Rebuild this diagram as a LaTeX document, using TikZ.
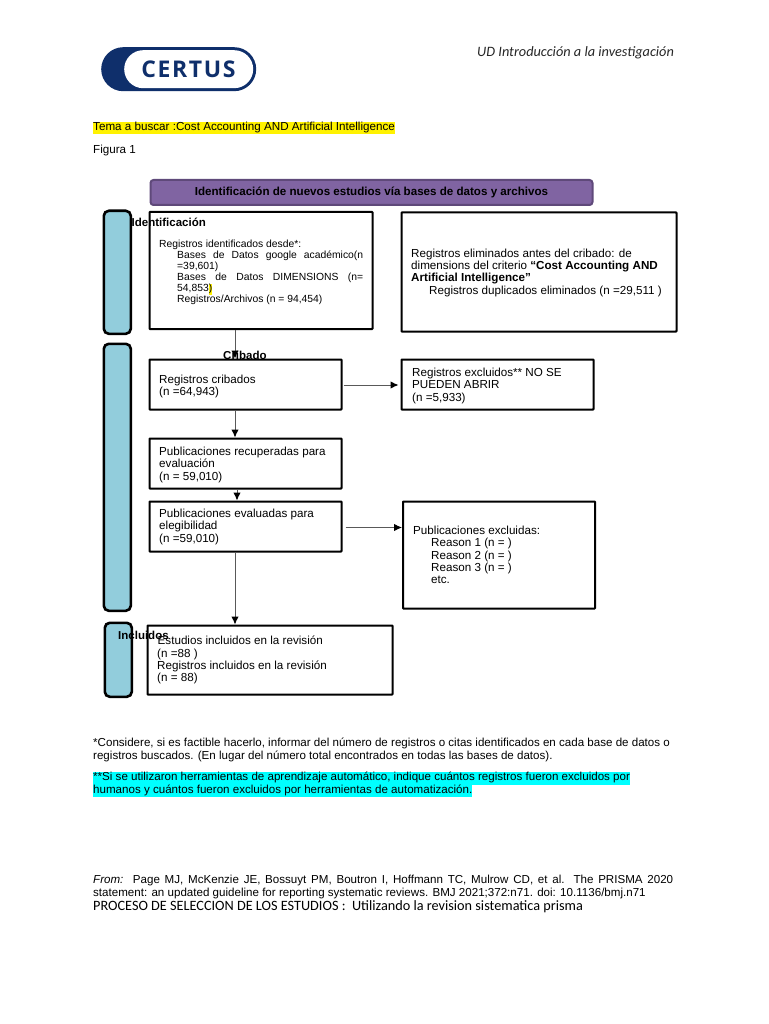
\documentclass[tikz,border=0pt]{standalone}
\usepackage{fontspec}
\setmainfont{Liberation Sans}
\newfontfamily\carl{Carlito}
\newfontfamily\logofont[LetterSpace=7]{Open Sans}
\usetikzlibrary{arrows.meta}
\definecolor{navy}{HTML}{0F2F6B}
\definecolor{bar}{HTML}{92CDDC}
\definecolor{head}{HTML}{8064A2}
\definecolor{headb}{HTML}{5F497A}
\definecolor{aqua}{HTML}{00FFFF}
\newcommand{\hl}[2]{{\setlength{\fboxsep}{0pt}\colorbox{#1}{\strut #2}}}
\newcommand{\just}[2]{\makebox[#1pt][s]{#2}}
\tikzset{
  x=1pt,y=-1pt,
  flowbox/.style={draw=black,line width=2pt,fill=white,rounded corners=0.6pt,inner sep=0pt,anchor=north west},
  sidebar/.style={draw=black,line width=2.6pt,fill=bar,rounded corners=5pt,inner sep=0pt,anchor=north west},
  body/.style={anchor=north west,inner sep=0pt,align=left,font=\fontsize{11.65}{12.3}\selectfont},
  note/.style={anchor=north west,inner sep=0pt,align=left,font=\fontsize{11.58}{12.5}\selectfont},
  small/.style={anchor=north west,inner sep=0pt,align=left,font=\fontsize{10.35}{11.1}\selectfont},
  tag/.style={anchor=west,inner sep=0pt,font=\fontsize{11.5}{12}\selectfont\bfseries},
  conn/.style={draw=black!65,line width=1pt,-{Latex[length=8pt,width=7.5pt,black]}},
}
\begin{document}
\begin{tikzpicture}
\useasboundingbox (0,0) rectangle (768,1024);
\fill[white] (0,0) rectangle (768,1024);
% logo
\node[fill=navy,rounded corners=22pt,minimum width=155pt,minimum height=44pt,inner sep=0pt,anchor=north west] (logo) at (101,47) {};
\node[fill=white,rounded corners=19pt,minimum width=129pt,minimum height=38pt,inner sep=0pt,anchor=north west] (logoin) at (124,50) {};
\node[anchor=center,inner sep=0pt,text=navy,font=\logofont\fontsize{23}{23}\selectfont\bfseries] (logotext) at (188.5,69.5) {CERTUS};
% top text
\node[anchor=west,inner sep=0pt,font=\carl\itshape\fontsize{14.3}{15}\selectfont,text=black!85] (ud) at (477,52.5) {UD Introducción a la investigación};
\node[body] (tema) at (93,122) {\hl{yellow}{Tema a buscar :Cost Accounting AND Artificial Intelligence}};
\node[body] (fig) at (93,145) {Figura 1};
% header
\node[draw=headb,line width=2pt,fill=head,rounded corners=3pt,minimum width=442pt,minimum height=25pt,inner sep=0pt,anchor=north west,font=\fontsize{11.6}{12}\selectfont\bfseries] (hdr) at (149.5,179) {Identificación de nuevos estudios vía bases de datos y archivos};
% side bars
\node[sidebar,minimum width=27pt,minimum height=123pt] (barA) at (102.5,209.5) {};
\node[sidebar,minimum width=27pt,minimum height=267pt] (barB) at (102.5,342.5) {};
\node[sidebar,minimum width=27pt,minimum height=74pt] (barC) at (103.5,621.5) {};
% boxes
\node[flowbox,minimum width=223pt,minimum height=117pt] (idb) at (148.5,211) {};
\node[flowbox,minimum width=275pt,minimum height=119pt] (elim) at (400.5,211.5) {};
\node[flowbox,minimum width=192pt,minimum height=50pt] (crib) at (148.5,358.5) {};
\node[flowbox,minimum width=192pt,minimum height=50pt] (excl) at (400.5,358.5) {};
\node[flowbox,minimum width=192pt,minimum height=50pt] (recu) at (148.5,437.5) {};
\node[flowbox,minimum width=192pt,minimum height=50pt] (eval) at (148.5,500.5) {};
\node[flowbox,minimum width=192pt,minimum height=107pt] (pubx) at (402,500.5) {};
\node[flowbox,minimum width=245pt,minimum height=69pt] (incl) at (146.5,624.5) {};
% connectors
\draw[conn] ([xshift=86.5pt]idb.south west) -- ([xshift=86.5pt]crib.north west);
\draw[conn] ([xshift=1pt,yshift=-0.5pt]crib.east) -- ([xshift=-2pt,yshift=-0.5pt]crib.east -| excl.west);
\draw[conn] ([xshift=86.5pt]crib.south west) -- ([xshift=86.5pt]recu.north west);
\draw[conn] ([xshift=88.5pt]recu.south west) -- ([xshift=88.5pt]eval.north west);
\draw[conn] ([xshift=86.5pt]eval.south west) -- ([xshift=88.5pt]incl.north west);
\draw[conn] ([xshift=3pt,yshift=-1pt]eval.east) -- ([yshift=-1pt]eval.east -| pubx.west);
% labels
\node[tag] (tagA) at (131.5,222) {Identificación};
\node[tag] (tagB) at (223,355) {Cribado};
\node[tag] (tagC) at (118,635) {Incluidos};
% box text
\node[small] (t1) at (159,239.5) {Registros identificados desde*:};
\node[small] (t2) at (177,250.5) {\just{186}{Bases de Datos google académico(n}\\=39,601)\\\just{186}{Bases de Datos DIMENSIONS (n=}\\54,853\hl{yellow}{)}\\Registros/Archivos (n = 94,454)};
\node[body] (t3) at (411,248.5) {Registros eliminados antes del cribado: de\\dimensions del criterio \textbf{“Cost Accounting AND}\\\textbf{Artificial Intelligence”}\\\hspace*{18pt}Registros duplicados eliminados (n =29,511 )};
\node[body] (t4) at (159,375) {Registros cribados\\(n =64,943)};
\node[body] (t5) at (412,368) {Registros excluidos** NO SE\\PUEDEN ABRIR\\(n =5,933)};
\node[body] (t6) at (159,447) {Publicaciones recuperadas para\\evaluación\\(n = 59,010)};
\node[body] (t7) at (159,509) {Publicaciones evaluadas para\\elegibilidad\\(n =59,010)};
\node[body] (t8) at (413,526) {Publicaciones excluidas:\\\hspace*{18pt}Reason 1 (n = )\\\hspace*{18pt}Reason 2 (n = )\\\hspace*{18pt}Reason 3 (n = )\\\hspace*{18pt}etc.};
\node[body] (t9) at (157,636) {\hspace*{0.5pt}Estudios incluidos en la revisión\\(n =88 )\\Registros incluidos en la revisión\\(n = 88)};
% footnotes
\node[note] (f1) at (93,738) {*Considere, si es factible hacerlo, informar del número de registros o citas identificados en cada base de datos o\\registros buscados. (En lugar del número total encontrados en todas las bases de datos).};
\node[note] (f2) at (93,772) {\hl{aqua}{**Si se utilizaron herramientas de aprendizaje automático, indique cuántos registros fueron excluidos por}\\\hl{aqua}{humanos y cuántos fueron excluidos por herramientas de automatización.}};
\node[note] (f3) at (93,875) {\just{580}{\textit{From:}\ \ Page MJ, McKenzie JE, Bossuyt PM, Boutron I, Hoffmann TC, Mulrow CD, et al. The PRISMA 2020}\\statement: an updated guideline for reporting systematic reviews. BMJ 2021;372:n71. doi: 10.1136/bmj.n71};
\node[anchor=west,inner sep=0pt,font=\carl\fontsize{14.25}{15}\selectfont] (f4) at (93,907) {PROCESO DE SELECCION DE LOS ESTUDIOS :\ \ Utilizando la revision sistematica prisma};
\end{tikzpicture}
\end{document}
